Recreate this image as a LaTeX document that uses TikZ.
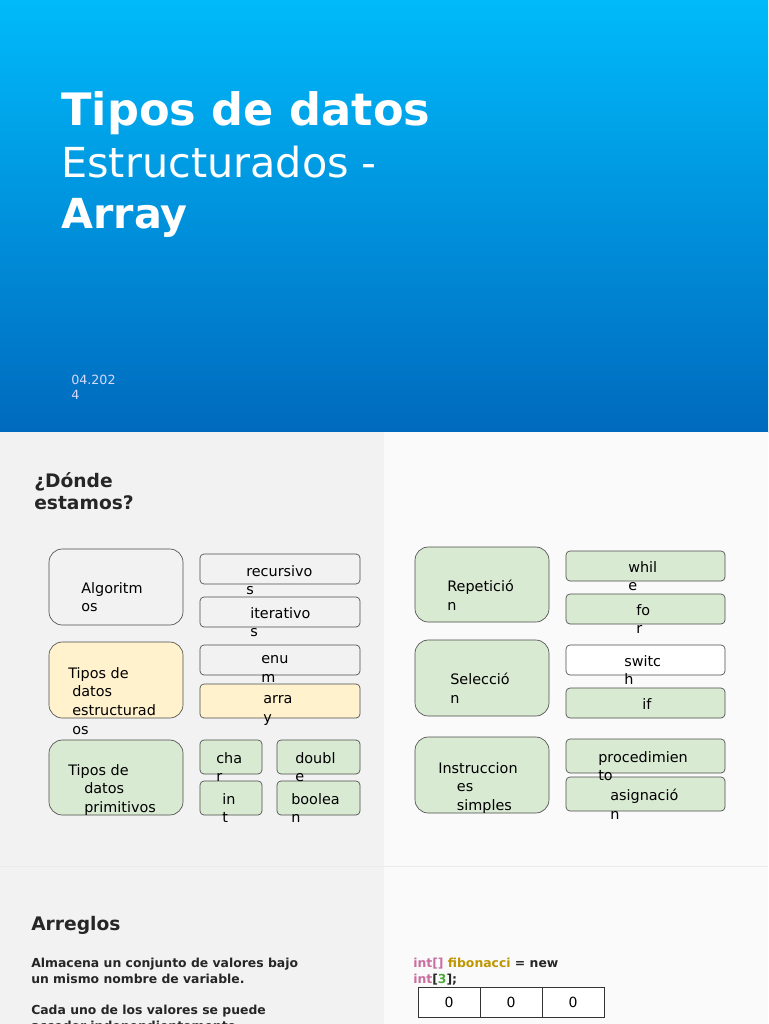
\documentclass[tikz,border=0pt]{standalone}
\usepackage{fontspec}
\setmainfont{DejaVu Sans}
\begin{document}
\begin{tikzpicture}[x=0.75pt,y=-0.75pt,
  bx/.style={draw=black!70,rounded corners=#1,line width=0.5pt},
  bx/.default=3pt,
  lbl/.style={font=\fontsize{10.8}{14}\selectfont,align=left,anchor=north west,inner sep=0pt,yshift=-3pt},
  cell/.style={draw=black!80,minimum width=46.5pt,minimum height=22.5pt,inner sep=0pt,font=\fontsize{10.5}{12}\selectfont}]
\useasboundingbox (0,0) rectangle (768,1024);
\definecolor{topc}{RGB}{0,186,250}
\definecolor{botc}{RGB}{0,106,190}
\definecolor{ylw}{RGB}{255,242,204}
\definecolor{grn}{RGB}{217,234,211}
\definecolor{kw}{RGB}{200,110,160}
\definecolor{idc}{RGB}{190,150,0}
\definecolor{numc}{RGB}{80,170,60}
\shade[top color=topc,bottom color=botc] (0,0) rectangle (768,432);
\fill[black!5] (0,432) rectangle (384,1024);
\fill[black!2] (384,432) rectangle (768,1024);
\draw[black!8] (0,866) -- (768,866);
% header
\node[anchor=base west,inner sep=0pt,text=white,font=\fontsize{33.5}{36}\selectfont\bfseries] (t1) at (61,125) {Tipos de datos};
\node[anchor=base west,inner sep=0pt,text=white,font=\fontsize{31}{36}\selectfont] (t2) at (61,177) {Estructurados -};
\node[anchor=base west,inner sep=0pt,text=white,font=\fontsize{31}{36}\selectfont\bfseries] (t3) at (61,228) {Array};
\node[anchor=north west,inner sep=0pt,align=left,text=white!85!blue,font=\fontsize{9.5}{11}\selectfont] (dt) at (71,375) {04.202\\4};
\node[anchor=north west,inner sep=0pt,align=left,text=black!85,font=\fontsize{14}{17}\selectfont\bfseries] (dn) at (34,472) {¿Dónde\\estamos?};
% boxes
\draw[bx=10pt] (49,549) rectangle (183,625);
\draw[bx] (200,554) rectangle (360,584);
\draw[bx] (200,597) rectangle (360,627);
\draw[bx=10pt,fill=ylw] (49,642) rectangle (183,718);
\draw[bx] (200,645) rectangle (360,675);
\draw[bx,fill=ylw] (200,684) rectangle (360,718);
\draw[bx=10pt,fill=grn] (49,740) rectangle (183,815);
\draw[bx,fill=grn] (200,740) rectangle (262,774);
\draw[bx,fill=grn] (277,740) rectangle (360,774);
\draw[bx,fill=grn] (200,781) rectangle (262,815);
\draw[bx,fill=grn] (277,781) rectangle (360,815);
\draw[bx=10pt,fill=grn] (415,547) rectangle (549,622);
\draw[bx,fill=grn] (566,551) rectangle (725,581);
\draw[bx,fill=grn] (566,594) rectangle (725,624);
\draw[bx=10pt,fill=grn] (415,640) rectangle (549,716);
\draw[bx,fill=white] (566,645) rectangle (725,675);
\draw[bx,fill=grn] (566,688) rectangle (725,718);
\draw[bx=10pt,fill=grn] (415,737) rectangle (549,813);
\draw[bx,fill=grn] (566,739) rectangle (725,773);
\draw[bx,fill=grn] (566,777) rectangle (725,811);
% labels
\node[lbl] (a1) at (81,578) {Algoritm\\os};
\node[lbl] (a2) at (246,561) {recursivo\\s};
\node[lbl] (a3) at (250,603) {iterativo\\s};
\node[lbl] (a4) at (68,663) {Tipos de\\\hspace*{3pt}datos\\\hspace*{3pt}estructurad\\\hspace*{3pt}os};
\node[lbl] (a5) at (261,651) {enu\\m};
\node[lbl] (a6) at (263,691) {arra\\y};
\node[lbl] (a7) at (68,760) {Tipos de\\\hspace*{12pt}datos\\\hspace*{12pt}primitivos};
\node[lbl] (a8) at (216,748) {cha\\r};
\node[lbl] (a9) at (295,748) {doubl\\e};
\node[lbl] (a10) at (222,789) {in\\t};
\node[lbl] (a11) at (291,789) {boolea\\n};
\node[lbl] (b1) at (447,576) {Repetició\\n};
\node[lbl] (b2) at (628,557) {whil\\e};
\node[lbl] (b3) at (636,600) {fo\\r};
\node[lbl] (b4) at (450,669) {Selecció\\n};
\node[lbl] (b5) at (624,651) {switc\\h};
\node[lbl] (b6) at (642,694) {if};
\node[lbl] (b7) at (438,758) {Instruccion\\\hspace*{14pt}es\\\hspace*{14pt}simples};
\node[lbl] (b8) at (598,747) {procedimien\\to};
\node[lbl] (b9) at (610,785) {asignació\\n};
% bottom
\node[anchor=base west,inner sep=0pt,text=black!85,font=\fontsize{14}{17}\selectfont\bfseries] (ar) at (31,930) {Arreglos};
\node[anchor=north west,inner sep=0pt,align=left,text=black!85,font=\fontsize{9.3}{12}\selectfont\bfseries] (tx) at (31,958) {Almacena un conjunto de valores bajo\\un mismo nombre de variable.\\[11pt]Cada uno de los valores se puede\\acceder independientemente.};
\node[anchor=north west,inner sep=0pt,align=left,font=\fontsize{9.3}{12}\selectfont\bfseries] (cd) at (413,958) {\textcolor{kw}{int[]} \textcolor{idc}{fibonacci} \textcolor{black!85}{= new}\\\textcolor{kw}{int}\textcolor{black!85}{[}\textcolor{numc}{3}\textcolor{black!85}{];}};
\node[cell,fill=white] (c1) at (449,1002) {0};
\node[cell,fill=white] (c2) at (511,1002) {0};
\node[cell,fill=white] (c3) at (573,1002) {0};
\end{tikzpicture}
\end{document}
